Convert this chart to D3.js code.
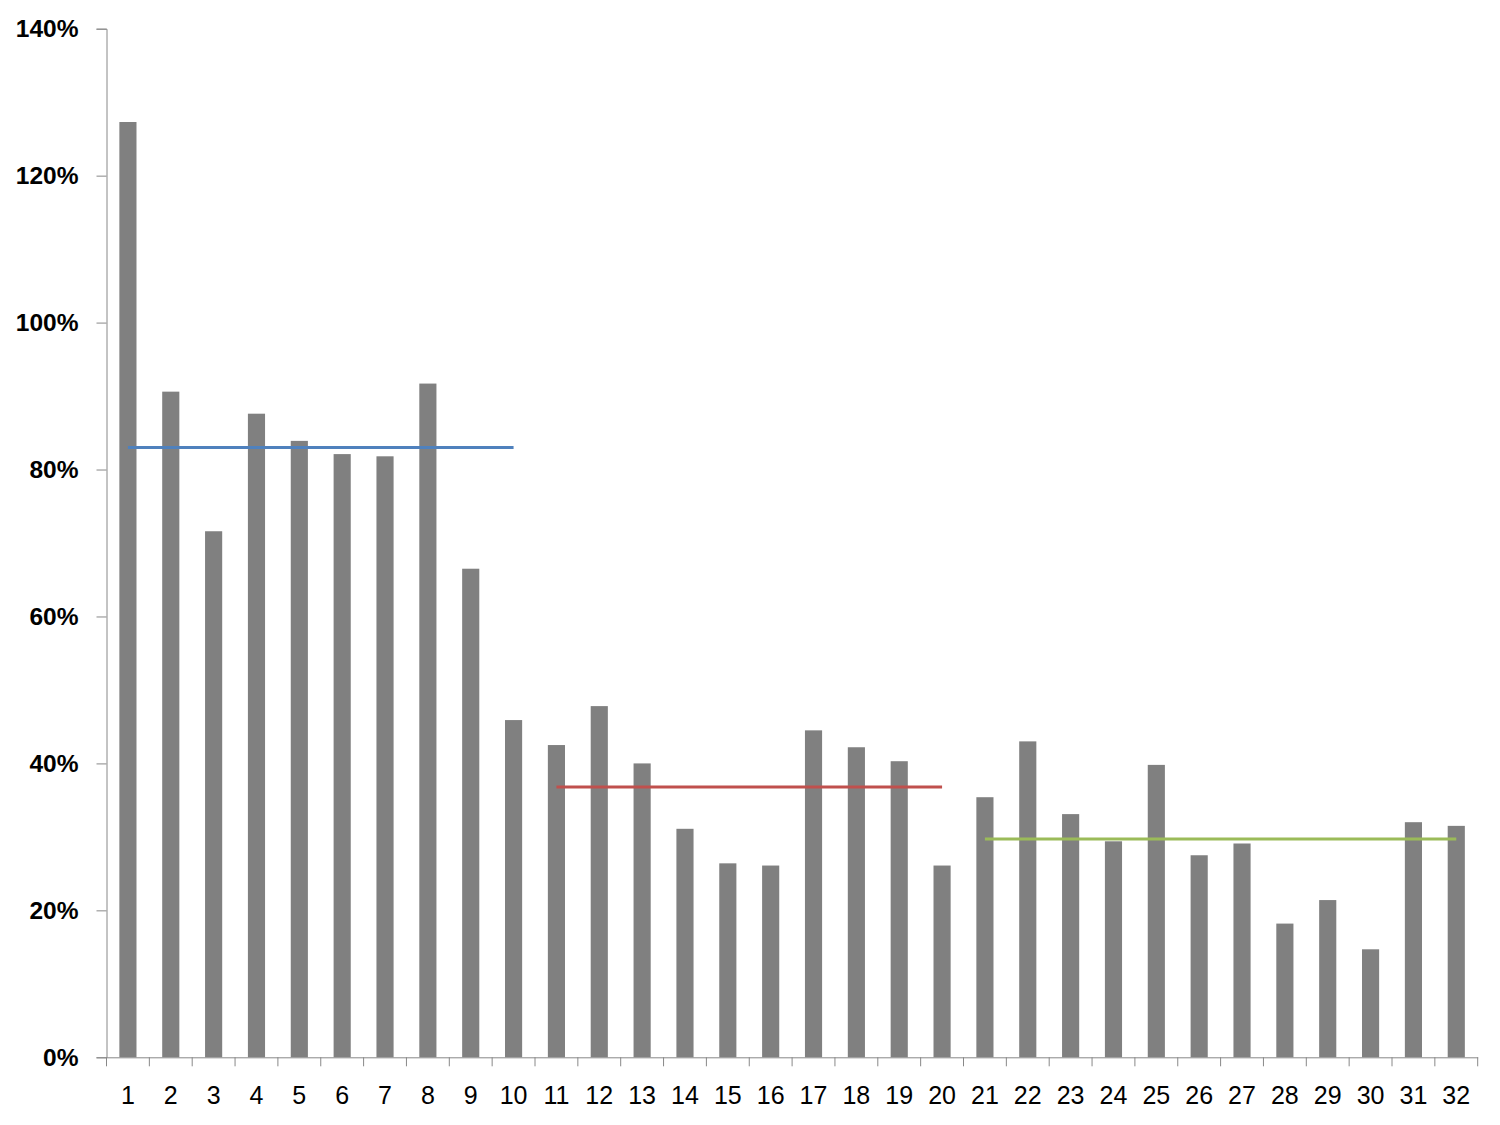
<!DOCTYPE html>
<html>
<head>
<meta charset="utf-8">
<script src="https://cdn.jsdelivr.net/npm/d3@7"></script>
<style>
  body { margin: 0; background: #fff; }
</style>
</head>
<body>
<div id="chart"></div>
<script>
// Data
const categories = d3.range(1, 33).map(String);
const values = [
    1.273, 0.906, 0.716, 0.876, 0.839, 0.821, 0.818, 0.917, 0.665, 0.459,
    0.425, 0.478, 0.400, 0.311, 0.264, 0.261, 0.445, 0.422, 0.403, 0.261,
    0.354, 0.430, 0.331, 0.294, 0.398, 0.275, 0.291, 0.182, 0.214, 0.147,
    0.320, 0.315
];
// Group averages: first category, last category, level
const groupStart = ["1", "11", "21"];
const groupEnd = ["10", "20", "32"];
const groupAvg = [0.830, 0.368, 0.297];
const yTicks = [0, 0.2, 0.4, 0.6, 0.8, 1.0, 1.2, 1.4];

// Set dimensions and margins
const width = 1500;
const height = 1125;
const margin = { top: 28.7, right: 22.3, bottom: 67.7, left: 106.5 };
const groupColors = ["#4F81BD", "#C0504D", "#9BBB59"];

const svg = d3.select("#chart")
    .append("svg")
    .attr("width", width)
    .attr("height", height);

const x = d3.scaleBand()
    .domain(categories)
    .range([margin.left, width - margin.right])
    .paddingInner(0.6)
    .paddingOuter(0.3);

const y = d3.scaleLinear()
    .domain([0, 1.4])
    .range([height - margin.bottom, margin.top]);

// Bars
svg.append("g")
    .selectAll("rect")
    .data(values)
    .join("rect")
    .attr("x", (d, i) => x(categories[i]))
    .attr("y", d => y(d))
    .attr("width", x.bandwidth())
    .attr("height", d => y(0) - y(d))
    .attr("fill", "#808080");

// Y axis
const yAxis = svg.append("g")
    .attr("transform", `translate(${margin.left},0)`)
    .call(d3.axisLeft(y).tickValues(yTicks).tickFormat(d3.format(".0%")).tickSize(10).tickPadding(18));
yAxis.select(".domain").attr("stroke", "#888");
yAxis.selectAll(".tick line").attr("stroke", "#888");
yAxis.selectAll("text")
    .attr("font-family", "'Liberation Sans', Arial, sans-serif")
    .attr("font-size", 24.5)
    .attr("font-weight", "bold")
    .attr("fill", "#000");

// X axis
const xAxis = svg.append("g")
    .attr("transform", `translate(0,${y(0)})`)
    .call(d3.axisBottom(x).tickSize(0).tickPadding(29).tickSizeOuter(0));
xAxis.select(".domain").attr("stroke", "#888");
xAxis.selectAll("text")
    .attr("font-family", "'Liberation Sans', Arial, sans-serif")
    .attr("font-size", 25)
    .attr("fill", "#000");

// Tick marks between categories
xAxis.selectAll("line.sep")
    .data(d3.range(categories.length + 1))
    .join("line")
    .attr("class", "sep")
    .attr("x1", i => x.range()[0] + i * x.step())
    .attr("x2", i => x.range()[0] + i * x.step())
    .attr("y1", 0)
    .attr("y2", 9)
    .attr("stroke", "#888");

// Average lines per group
const center = c => x(c) + x.bandwidth() / 2;
svg.append("g")
    .selectAll("line")
    .data(groupAvg)
    .join("line")
    .attr("x1", (d, i) => center(groupStart[i]))
    .attr("x2", (d, i) => center(groupEnd[i]))
    .attr("y1", d => y(d))
    .attr("y2", d => y(d))
    .attr("stroke", (d, i) => groupColors[i])
    .attr("stroke-width", 3);
</script>
</body>
</html>
